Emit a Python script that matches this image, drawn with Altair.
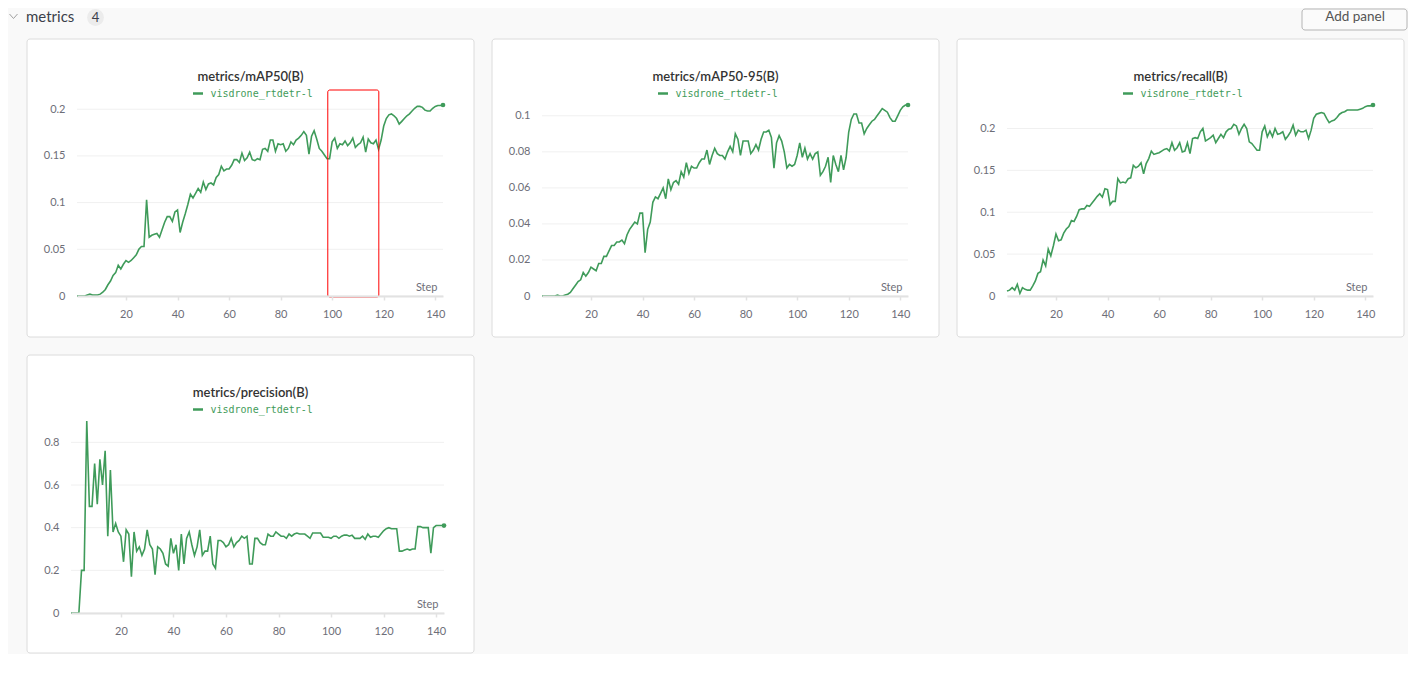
import altair as alt
import pandas as pd

# ---------------- data ----------------
STEPS = list(range(1, 144))
RUN = "visdrone_rtdetr-l"

MAP50 = [0, 0, 0, 0, 0.001, 0.002, 0.001, 0.001, 0.001, 0.002,
         0.004, 0.007, 0.012, 0.016, 0.022, 0.025, 0.033, 0.029, 0.034, 0.038,
         0.036, 0.038, 0.041, 0.044, 0.050, 0.053, 0.053, 0.103, 0.063, 0.065,
         0.066, 0.067, 0.063, 0.071, 0.079, 0.085, 0.085, 0.080, 0.090, 0.092,
         0.068, 0.079, 0.088, 0.098, 0.109, 0.105, 0.110, 0.115, 0.111, 0.122,
         0.114, 0.120, 0.121, 0.119, 0.127, 0.130, 0.139, 0.134, 0.136, 0.136,
         0.140, 0.146, 0.146, 0.143, 0.153, 0.145, 0.148, 0.154, 0.146, 0.145,
         0.147, 0.146, 0.157, 0.158, 0.155, 0.167, 0.167, 0.155, 0.163, 0.162,
         0.163, 0.155, 0.158, 0.165, 0.162, 0.167, 0.169, 0.172, 0.176, 0.172,
         0.152, 0.171, 0.177, 0.168, 0.158, 0.155, 0.151, 0.147, 0.147, 0.165,
         0.169, 0.158, 0.163, 0.162, 0.166, 0.161, 0.164, 0.169, 0.159, 0.162,
         0.164, 0.170, 0.154, 0.168, 0.164, 0.163, 0.167, 0.157, 0.167, 0.182,
         0.190, 0.194, 0.195, 0.193, 0.190, 0.184, 0.187, 0.190, 0.193, 0.195,
         0.198, 0.201, 0.203, 0.203, 0.202, 0.199, 0.198, 0.198, 0.201, 0.203,
         0.204, 0.204, 0.2045]

MAP5095 = [0, 0, 0, 0, 0, 0, 0.0005, 0, 0, 0.0005,
           0.001, 0.002, 0.004, 0.006, 0.008, 0.009, 0.013, 0.011, 0.013, 0.016,
           0.015, 0.014, 0.018, 0.018, 0.022, 0.022, 0.025, 0.028, 0.028, 0.030,
           0.030, 0.031, 0.029, 0.034, 0.037, 0.039, 0.041, 0.040, 0.046, 0.046,
           0.024, 0.037, 0.041, 0.052, 0.055, 0.054, 0.057, 0.060, 0.054, 0.065,
           0.059, 0.063, 0.064, 0.062, 0.069, 0.066, 0.074, 0.068, 0.072, 0.071,
           0.071, 0.074, 0.076, 0.076, 0.081, 0.073, 0.078, 0.082, 0.079, 0.078,
           0.078, 0.076, 0.080, 0.083, 0.080, 0.090, 0.087, 0.078, 0.086, 0.086,
           0.086, 0.079, 0.081, 0.084, 0.081, 0.087, 0.091, 0.091, 0.092, 0.088,
           0.071, 0.085, 0.089, 0.086, 0.080, 0.071, 0.073, 0.072, 0.073, 0.078,
           0.085, 0.077, 0.082, 0.076, 0.079, 0.076, 0.079, 0.080, 0.067, 0.069,
           0.072, 0.077, 0.063, 0.078, 0.073, 0.069, 0.078, 0.070, 0.077, 0.091,
           0.098, 0.101, 0.101, 0.096, 0.096, 0.090, 0.093, 0.095, 0.097, 0.098,
           0.100, 0.102, 0.104, 0.103, 0.102, 0.099, 0.097, 0.097, 0.100, 0.103,
           0.105, 0.106, 0.106]

RECALL = [0.006, 0.007, 0.010, 0.007, 0.014, 0.003, 0.010, 0.008, 0.007, 0.007,
          0.012, 0.018, 0.027, 0.029, 0.043, 0.036, 0.056, 0.048, 0.060, 0.074,
          0.066, 0.067, 0.075, 0.080, 0.083, 0.090, 0.089, 0.095, 0.103, 0.104,
          0.104, 0.108, 0.107, 0.111, 0.115, 0.119, 0.122, 0.118, 0.128, 0.127,
          0.109, 0.113, 0.113, 0.140, 0.135, 0.136, 0.135, 0.140, 0.141, 0.156,
          0.153, 0.155, 0.159, 0.146, 0.158, 0.164, 0.173, 0.169, 0.170, 0.171,
          0.173, 0.175, 0.176, 0.173, 0.183, 0.174, 0.177, 0.183, 0.172, 0.173,
          0.183, 0.170, 0.188, 0.189, 0.188, 0.196, 0.200, 0.185, 0.187, 0.189,
          0.192, 0.183, 0.188, 0.193, 0.189, 0.196, 0.199, 0.200, 0.205, 0.203,
          0.193, 0.200, 0.205, 0.200, 0.184, 0.182, 0.178, 0.174, 0.174, 0.196,
          0.203, 0.190, 0.197, 0.190, 0.200, 0.193, 0.194, 0.196, 0.187, 0.191,
          0.196, 0.204, 0.192, 0.198, 0.196, 0.196, 0.198, 0.188, 0.198, 0.212,
          0.217, 0.218, 0.219, 0.218, 0.212, 0.207, 0.209, 0.210, 0.213, 0.217,
          0.219, 0.220, 0.222, 0.222, 0.222, 0.222, 0.222, 0.223, 0.224, 0.226,
          0.227, 0.227, 0.228]

PRECISION = [0, 0, 0, 0, 0.2, 0.2, 0.9, 0.5, 0.5, 0.70,
             0.51, 0.72, 0.60, 0.76, 0.36, 0.67, 0.38, 0.42, 0.38, 0.36,
             0.24, 0.39, 0.37, 0.17, 0.38, 0.29, 0.31, 0.27, 0.30, 0.39,
             0.32, 0.30, 0.18, 0.31, 0.30, 0.28, 0.23, 0.22, 0.35, 0.28,
             0.32, 0.20, 0.37, 0.23, 0.35, 0.38, 0.32, 0.27, 0.31, 0.39,
             0.27, 0.29, 0.29, 0.36, 0.23, 0.21, 0.34, 0.34, 0.33, 0.31,
             0.32, 0.35, 0.31, 0.33, 0.34, 0.36, 0.35, 0.36, 0.23, 0.23,
             0.35, 0.35, 0.33, 0.32, 0.32, 0.37, 0.36, 0.36, 0.38, 0.37,
             0.36, 0.36, 0.35, 0.37, 0.36, 0.37, 0.375, 0.37, 0.37, 0.37,
             0.36, 0.35, 0.375, 0.375, 0.375, 0.375, 0.355, 0.355, 0.355, 0.35,
             0.36, 0.36, 0.35, 0.36, 0.365, 0.365, 0.36, 0.365, 0.35, 0.35,
             0.35, 0.36, 0.345, 0.37, 0.355, 0.36, 0.36, 0.355, 0.37, 0.385,
             0.395, 0.40, 0.395, 0.395, 0.395, 0.29, 0.29, 0.295, 0.30, 0.295,
             0.30, 0.30, 0.405, 0.405, 0.40, 0.40, 0.40, 0.28, 0.40, 0.41,
             0.41, 0.41, 0.41]

TITLES = ["metrics/mAP50(B)", "metrics/mAP50-95(B)", "metrics/recall(B)", "metrics/precision(B)"]
X_TICKS = [20, 40, 60, 80, 100, 120, 140]
Y_TICKS_MAP50 = [0, 0.05, 0.1, 0.15, 0.2]
Y_TICKS_MAP5095 = [0, 0.02, 0.04, 0.06, 0.08, 0.1]
Y_TICKS_RECALL = [0, 0.05, 0.1, 0.15, 0.2]
Y_TICKS_PRECISION = [0, 0.2, 0.4, 0.6, 0.8]

# highlighted step range (red box in the first panel)
BOX_START = [98.3]
BOX_END = [118.1]

SECTION = "metrics"
SECTION_COUNT = "4"
BUTTON = "Add panel"

# ---------------- style ----------------
GREEN = "#3f9b5a"
FONT = "Lato"
MONO = "DejaVu Sans Mono"
AXIS_GRAY = "#6e6e78"
BG = "#f9f9f9"
CARD_TOP = 66


def x_enc(width):
    return alt.X(
        "Step:Q",
        scale=alt.Scale(domain=[1, 143], nice=False, zero=False),
        axis=alt.Axis(
            values=X_TICKS, title="Step", titleX=width - 6, titleY=-6,
            titleAlign="right", titleBaseline="alphabetic", titleAnchor="end",
            titleFont=FONT, titleFontSize=11, titleFontWeight="normal", titleColor=AXIS_GRAY,
            domainColor="#e2e2e2", domainWidth=2, tickColor="#e2e2e2", tickSize=4,
            tickWidth=1.5, labelPadding=8, labelFont=FONT, labelFontSize=11,
            labelColor=AXIS_GRAY, labelFlush=False, grid=False, zindex=1,
        ),
    )


def y_enc(yticks, ymax):
    return alt.Y(
        "value:Q",
        scale=alt.Scale(domain=[0, ymax], nice=False, zero=True),
        axis=alt.Axis(
            values=yticks, format="~g", title=None, domain=False, ticks=False,
            labelPadding=12, labelFont=FONT, labelFontSize=11, labelColor=AXIS_GRAY,
            grid=False, zindex=1,
        ),
    )


def panel(title, values, yticks, width, left, right, height, box=False):
    df = pd.DataFrame({"Step": STEPS, "value": values, "run": RUN})
    ymax = max(values)
    bottom = 298 - CARD_TOP - height
    cx = (width + right - left) / 2.0

    card = alt.Chart(pd.DataFrame({"c": [0]})).mark_rect(
        fill="white", stroke="#dcdcdc", strokeWidth=1, cornerRadius=3
    ).encode(
        x=alt.value(-left), x2=alt.value(width + right),
        y=alt.value(-CARD_TOP), y2=alt.value(height + bottom),
    )
    grid = alt.Chart(pd.DataFrame({"value": yticks})).mark_rule(
        color="#f0f0f0", strokeWidth=1
    ).encode(y=y_enc(yticks, ymax))
    line = alt.Chart(df).mark_line(strokeWidth=1.6, interpolate="linear").encode(
        x=x_enc(width),
        y=y_enc(yticks, ymax),
        color=alt.Color(
            "run:N",
            scale=alt.Scale(domain=[RUN], range=[GREEN]),
            legend=alt.Legend(
                orient="none", legendX=cx - 59, legendY=-18, direction="horizontal",
                title=None, symbolType="stroke", symbolSize=100, symbolStrokeWidth=2.5,
                labelFont=MONO, labelFontSize=10, labelColor=GREEN, labelOffset=6,
                padding=0,
            ),
        ),
    )
    end = alt.Chart(df.tail(1)).mark_circle(size=22, opacity=1, color=GREEN).encode(
        x=x_enc(width), y=y_enc(yticks, ymax)
    )
    ttl = alt.Chart(pd.DataFrame({"t": [title]})).mark_text(
        font=FONT, fontSize=13, fontWeight=600, color="#333333",
        align="center", baseline="middle",
    ).encode(text="t:N", x=alt.value(cx), y=alt.value(-28))

    layers = [card, grid, line, end, ttl]
    if box:
        bdf = pd.DataFrame({"Step": BOX_START, "end": BOX_END})
        red = alt.Chart(bdf).mark_rect(
            fill=None, fillOpacity=0, stroke="#ff0000", strokeWidth=1, cornerRadius=2
        ).encode(
            x=x_enc(width), x2="end:Q",
            y=alt.value(-15), y2=alt.value(height + 1),
        )
        layers.append(red)
    return alt.layer(*layers).properties(width=width, height=height)


def spacer():
    return alt.Chart(pd.DataFrame({"c": [0]})).mark_rect(opacity=0).encode(
        x=alt.value(0), x2=alt.value(2), y=alt.value(0), y2=alt.value(1)
    ).properties(width=2, height=1)


p1 = panel(TITLES[0], MAP50, Y_TICKS_MAP50, 366, 50, 31, 191, box=True)
p2 = panel(TITLES[1], MAP5095, Y_TICKS_MAP5095, 366, 50, 31, 191)
p3 = panel(TITLES[2], RECALL, Y_TICKS_RECALL, 366, 50, 31, 191)
p4 = panel(TITLES[3], PRECISION, Y_TICKS_PRECISION, 373, 44, 30, 192)

# ---------------- header ----------------
one = pd.DataFrame({"c": [0]})
chev_l = alt.Chart(one).mark_rule(color="#a0a0a0", strokeWidth=1).encode(
    x=alt.value(1.5), y=alt.value(6), x2=alt.value(5.5), y2=alt.value(10.5)
)
chev_r = alt.Chart(one).mark_rule(color="#a0a0a0", strokeWidth=1).encode(
    x=alt.value(5.5), y=alt.value(10.5), x2=alt.value(9.5), y2=alt.value(6)
)
sect = alt.Chart(pd.DataFrame({"t": [SECTION]})).mark_text(
    font=FONT, fontSize=15, color="#3b3f4a", align="left", baseline="middle"
).encode(text="t:N", x=alt.value(18), y=alt.value(9))
badge = alt.Chart(one).mark_circle(size=284, color="#ececec", opacity=1).encode(
    x=alt.value(87.5), y=alt.value(9.5)
)
badge_t = alt.Chart(pd.DataFrame({"t": [SECTION_COUNT]})).mark_text(
    font=FONT, fontSize=13, color="#3b3f4a", align="center", baseline="middle"
).encode(text="t:N", x=alt.value(87.5), y=alt.value(9.5))
btn = alt.Chart(one).mark_rect(
    fill="#fbfbfb", stroke="#b5b5b5", strokeWidth=1, cornerRadius=3
).encode(x=alt.value(1294), x2=alt.value(1399), y=alt.value(1), y2=alt.value(22))
btn_t = alt.Chart(pd.DataFrame({"t": [BUTTON]})).mark_text(
    font=FONT, fontSize=13.5, color="#555555", align="center", baseline="middle"
).encode(text="t:N", x=alt.value(1347), y=alt.value(9))
header = alt.layer(chev_l, chev_r, sect, badge, badge_t, btn, btn_t).properties(width=1400, height=23)

row1 = alt.hconcat(spacer(), p1, p2, p3, spacing=16).resolve_scale(color="independent").resolve_legend(color="independent")
row2 = alt.hconcat(spacer(), p4, spacing=16).resolve_scale(color="independent").resolve_legend(color="independent")
rows = alt.vconcat(row1, row2, spacing=16).resolve_scale(color="independent").resolve_legend(color="independent")

chart = alt.vconcat(header, rows, spacing=7).resolve_scale(
    color="independent"
).resolve_legend(color="independent").properties(
    background=BG, padding=0
).configure_view(strokeWidth=0)

chart.save("out.html", embed_options={"renderer": "svg", "actions": False})
